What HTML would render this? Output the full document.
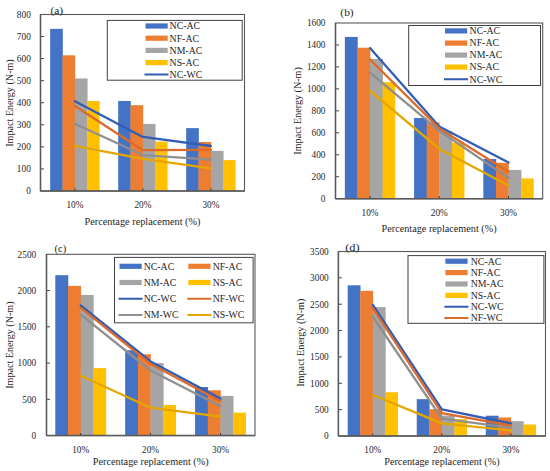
<!DOCTYPE html>
<html><head><meta charset="utf-8"><style>
html,body{margin:0;padding:0;background:#fff;width:550px;height:471px;overflow:hidden}
svg{display:block}
text{font-family:"Liberation Serif",serif;fill:#262626}
</style></head><body>
<svg width="550" height="471" viewBox="0 0 550 471">
<rect width="550" height="471" fill="#fff"/>
<rect x="50.17" y="28.84" width="12.66" height="162.16" fill="#4472C4"/>
<rect x="118.17" y="100.98" width="12.66" height="90.02" fill="#4472C4"/>
<rect x="186.17" y="128.12" width="12.66" height="62.88" fill="#4472C4"/>
<rect x="62.54" y="55.32" width="12.66" height="135.68" fill="#ED7D31"/>
<rect x="130.54" y="105.18" width="12.66" height="85.82" fill="#ED7D31"/>
<rect x="198.54" y="142.02" width="12.66" height="48.98" fill="#ED7D31"/>
<rect x="74.9" y="78.48" width="12.66" height="112.52" fill="#A5A5A5"/>
<rect x="142.9" y="123.93" width="12.66" height="67.07" fill="#A5A5A5"/>
<rect x="210.9" y="150.85" width="12.66" height="40.15" fill="#A5A5A5"/>
<rect x="87.26" y="100.98" width="12.36" height="90.02" fill="#FFC000"/>
<rect x="155.26" y="141.58" width="12.36" height="49.42" fill="#FFC000"/>
<rect x="223.26" y="160.11" width="12.36" height="30.89" fill="#FFC000"/>
<rect x="40.5" y="14.5" width="204" height="176.5" fill="none" stroke="#595959" stroke-width="1.1"/>
<text x="30.8" y="194.3" text-anchor="end" font-size="9.7" textLength="4.65" lengthAdjust="spacingAndGlyphs">0</text>
<line x1="40.5" y1="168.94" x2="44" y2="168.94" stroke="#404040" stroke-width="1"/>
<text x="30.8" y="172.24" text-anchor="end" font-size="9.7" textLength="13.95" lengthAdjust="spacingAndGlyphs">100</text>
<line x1="40.5" y1="146.88" x2="44" y2="146.88" stroke="#404040" stroke-width="1"/>
<text x="30.8" y="150.18" text-anchor="end" font-size="9.7" textLength="13.95" lengthAdjust="spacingAndGlyphs">200</text>
<line x1="40.5" y1="124.81" x2="44" y2="124.81" stroke="#404040" stroke-width="1"/>
<text x="30.8" y="128.11" text-anchor="end" font-size="9.7" textLength="13.95" lengthAdjust="spacingAndGlyphs">300</text>
<line x1="40.5" y1="102.75" x2="44" y2="102.75" stroke="#404040" stroke-width="1"/>
<text x="30.8" y="106.05" text-anchor="end" font-size="9.7" textLength="13.95" lengthAdjust="spacingAndGlyphs">400</text>
<line x1="40.5" y1="80.69" x2="44" y2="80.69" stroke="#404040" stroke-width="1"/>
<text x="30.8" y="83.99" text-anchor="end" font-size="9.7" textLength="13.95" lengthAdjust="spacingAndGlyphs">500</text>
<line x1="40.5" y1="58.62" x2="44" y2="58.62" stroke="#404040" stroke-width="1"/>
<text x="30.8" y="61.92" text-anchor="end" font-size="9.7" textLength="13.95" lengthAdjust="spacingAndGlyphs">600</text>
<line x1="40.5" y1="36.56" x2="44" y2="36.56" stroke="#404040" stroke-width="1"/>
<text x="30.8" y="39.86" text-anchor="end" font-size="9.7" textLength="13.95" lengthAdjust="spacingAndGlyphs">700</text>
<text x="30.8" y="17.8" text-anchor="end" font-size="9.7" textLength="13.95" lengthAdjust="spacingAndGlyphs">800</text>
<path d="M74.9,101.21 L142.9,136.95 L210.9,145.99" fill="none" stroke="#335DB5" stroke-width="2.3" stroke-linejoin="round" stroke-linecap="round"/>
<path d="M74.9,106.06 L142.9,150.18 L210.9,149.96" fill="none" stroke="#DC6A2A" stroke-width="2.3" stroke-linejoin="round" stroke-linecap="round"/>
<path d="M74.9,123.71 L142.9,155.04 L210.9,159.67" fill="none" stroke="#8F8F8F" stroke-width="2.3" stroke-linejoin="round" stroke-linecap="round"/>
<path d="M74.9,145.77 L142.9,158.79 L210.9,168.28" fill="none" stroke="#E3A700" stroke-width="2.3" stroke-linejoin="round" stroke-linecap="round"/>
<line x1="74.9" y1="188.5" x2="74.9" y2="191" stroke="#303030" stroke-width="1"/>
<line x1="142.9" y1="188.5" x2="142.9" y2="191" stroke="#303030" stroke-width="1"/>
<line x1="210.9" y1="188.5" x2="210.9" y2="191" stroke="#303030" stroke-width="1"/>
<line x1="40.5" y1="14.5" x2="40.5" y2="191" stroke="#595959" stroke-width="1.5"/>
<line x1="40.5" y1="191" x2="244.5" y2="191" stroke="#595959" stroke-width="1.5"/>
<rect x="107.3" y="20.4" width="134.9" height="59.8" fill="#fff" stroke="#404040" stroke-width="1"/>
<clipPath id="clipa"><rect x="107.3" y="20.4" width="134.9" height="59.8"/></clipPath><g clip-path="url(#clipa)">
<rect x="145.5" y="23.4" width="22.2" height="5.2" fill="#4472C4"/>
<text x="169.6" y="29.3" font-size="9.8">NC-AC</text>
<rect x="145.5" y="35.6" width="22.2" height="5.2" fill="#ED7D31"/>
<text x="169.6" y="41.5" font-size="9.8">NF-AC</text>
<rect x="145.5" y="47.8" width="22.2" height="5.2" fill="#A5A5A5"/>
<text x="169.6" y="53.7" font-size="9.8">NM-AC</text>
<rect x="145.5" y="60" width="22.2" height="5.2" fill="#FFC000"/>
<text x="169.6" y="65.9" font-size="9.8">NS-AC</text>
<line x1="144.5" y1="74.5" x2="168.5" y2="74.5" stroke="#335DB5" stroke-width="2"/>
<text x="169.6" y="77.8" font-size="9.8">NC-WC</text>
</g>
<text x="74.9" y="208.2" text-anchor="middle" font-size="9.3" textLength="17" lengthAdjust="spacingAndGlyphs">10%</text>
<text x="142.9" y="208.2" text-anchor="middle" font-size="9.3" textLength="17" lengthAdjust="spacingAndGlyphs">20%</text>
<text x="210.9" y="208.2" text-anchor="middle" font-size="9.3" textLength="17" lengthAdjust="spacingAndGlyphs">30%</text>
<text x="142.5" y="224.5" text-anchor="middle" font-size="10" textLength="116" lengthAdjust="spacingAndGlyphs">Percentage replacement (%)</text>
<text transform="translate(13.4,103) rotate(-90)" text-anchor="middle" font-size="9.8" textLength="87.5" lengthAdjust="spacingAndGlyphs">Impact Energy (N-m)</text>
<text x="56.8" y="13.9" text-anchor="middle" font-size="11" textLength="12.6" lengthAdjust="spacingAndGlyphs">(a)</text>
<rect x="344.84" y="36.95" width="12.89" height="161.75" fill="#4472C4"/>
<rect x="414.09" y="117.99" width="12.89" height="80.71" fill="#4472C4"/>
<rect x="483.34" y="158.95" width="12.89" height="39.75" fill="#4472C4"/>
<rect x="357.43" y="47.71" width="12.89" height="150.99" fill="#ED7D31"/>
<rect x="426.68" y="122.38" width="12.89" height="76.32" fill="#ED7D31"/>
<rect x="495.93" y="162.79" width="12.89" height="35.91" fill="#ED7D31"/>
<rect x="370.02" y="58.91" width="12.89" height="139.79" fill="#A5A5A5"/>
<rect x="439.27" y="131.17" width="12.89" height="67.53" fill="#A5A5A5"/>
<rect x="508.52" y="169.93" width="12.89" height="28.77" fill="#A5A5A5"/>
<rect x="382.62" y="82.19" width="12.59" height="116.51" fill="#FFC000"/>
<rect x="451.87" y="142.59" width="12.59" height="56.11" fill="#FFC000"/>
<rect x="521.12" y="178.38" width="12.59" height="20.32" fill="#FFC000"/>
<rect x="335.5" y="23" width="207.2" height="175.7" fill="none" stroke="#595959" stroke-width="1.1"/>
<text x="325.5" y="202" text-anchor="end" font-size="9.7" textLength="4.65" lengthAdjust="spacingAndGlyphs">0</text>
<line x1="335.5" y1="176.74" x2="339" y2="176.74" stroke="#404040" stroke-width="1"/>
<text x="325.5" y="180.04" text-anchor="end" font-size="9.7" textLength="13.95" lengthAdjust="spacingAndGlyphs">200</text>
<line x1="335.5" y1="154.77" x2="339" y2="154.77" stroke="#404040" stroke-width="1"/>
<text x="325.5" y="158.07" text-anchor="end" font-size="9.7" textLength="13.95" lengthAdjust="spacingAndGlyphs">400</text>
<line x1="335.5" y1="132.81" x2="339" y2="132.81" stroke="#404040" stroke-width="1"/>
<text x="325.5" y="136.11" text-anchor="end" font-size="9.7" textLength="13.95" lengthAdjust="spacingAndGlyphs">600</text>
<line x1="335.5" y1="110.85" x2="339" y2="110.85" stroke="#404040" stroke-width="1"/>
<text x="325.5" y="114.15" text-anchor="end" font-size="9.7" textLength="13.95" lengthAdjust="spacingAndGlyphs">800</text>
<line x1="335.5" y1="88.89" x2="339" y2="88.89" stroke="#404040" stroke-width="1"/>
<text x="325.5" y="92.19" text-anchor="end" font-size="9.7" textLength="18.6" lengthAdjust="spacingAndGlyphs">1000</text>
<line x1="335.5" y1="66.92" x2="339" y2="66.92" stroke="#404040" stroke-width="1"/>
<text x="325.5" y="70.22" text-anchor="end" font-size="9.7" textLength="18.6" lengthAdjust="spacingAndGlyphs">1200</text>
<line x1="335.5" y1="44.96" x2="339" y2="44.96" stroke="#404040" stroke-width="1"/>
<text x="325.5" y="48.26" text-anchor="end" font-size="9.7" textLength="18.6" lengthAdjust="spacingAndGlyphs">1400</text>
<text x="325.5" y="26.3" text-anchor="end" font-size="9.7" textLength="18.6" lengthAdjust="spacingAndGlyphs">1600</text>
<path d="M370.02,48.04 L439.27,126.55 L508.52,162.46" fill="none" stroke="#335DB5" stroke-width="2.3" stroke-linejoin="round" stroke-linecap="round"/>
<path d="M370.02,59.46 L439.27,128.42 L508.52,171.69" fill="none" stroke="#DC6A2A" stroke-width="2.3" stroke-linejoin="round" stroke-linecap="round"/>
<path d="M370.02,72.64 L439.27,130.73 L508.52,177.84" fill="none" stroke="#8F8F8F" stroke-width="2.3" stroke-linejoin="round" stroke-linecap="round"/>
<path d="M370.02,90.75 L439.27,148.95 L508.52,185.41" fill="none" stroke="#E3A700" stroke-width="2.3" stroke-linejoin="round" stroke-linecap="round"/>
<line x1="370.02" y1="196.2" x2="370.02" y2="198.7" stroke="#303030" stroke-width="1"/>
<line x1="439.27" y1="196.2" x2="439.27" y2="198.7" stroke="#303030" stroke-width="1"/>
<line x1="508.52" y1="196.2" x2="508.52" y2="198.7" stroke="#303030" stroke-width="1"/>
<line x1="335.5" y1="23" x2="335.5" y2="198.7" stroke="#595959" stroke-width="1.5"/>
<line x1="335.5" y1="198.7" x2="542.7" y2="198.7" stroke="#595959" stroke-width="1.5"/>
<rect x="408.7" y="25.5" width="131.8" height="60" fill="#fff" stroke="#404040" stroke-width="1"/>
<clipPath id="clipb"><rect x="408.7" y="25.5" width="131.8" height="60"/></clipPath><g clip-path="url(#clipb)">
<rect x="445" y="28.3" width="22.2" height="5.2" fill="#4472C4"/>
<text x="469.6" y="34.2" font-size="9.8">NC-AC</text>
<rect x="445" y="40.5" width="22.2" height="5.2" fill="#ED7D31"/>
<text x="469.6" y="46.4" font-size="9.8">NF-AC</text>
<rect x="445" y="52.5" width="22.2" height="5.2" fill="#A5A5A5"/>
<text x="469.6" y="58.4" font-size="9.8">NM-AC</text>
<rect x="445" y="64.5" width="22.2" height="5.2" fill="#FFC000"/>
<text x="469.6" y="70.4" font-size="9.8">NS-AC</text>
<line x1="444" y1="79.3" x2="468" y2="79.3" stroke="#335DB5" stroke-width="2"/>
<text x="469.6" y="82.6" font-size="9.8">NC-WC</text>
</g>
<text x="370.02" y="216" text-anchor="middle" font-size="9.3" textLength="17" lengthAdjust="spacingAndGlyphs">10%</text>
<text x="439.27" y="216" text-anchor="middle" font-size="9.3" textLength="17" lengthAdjust="spacingAndGlyphs">20%</text>
<text x="508.52" y="216" text-anchor="middle" font-size="9.3" textLength="17" lengthAdjust="spacingAndGlyphs">30%</text>
<text x="439.1" y="231.8" text-anchor="middle" font-size="10" textLength="115" lengthAdjust="spacingAndGlyphs">Percentage replacement (%)</text>
<text transform="translate(300.7,110.9) rotate(-90)" text-anchor="middle" font-size="9.8" textLength="87.5" lengthAdjust="spacingAndGlyphs">Impact Energy (N-m)</text>
<text x="347" y="16.4" text-anchor="middle" font-size="11" textLength="13.3" lengthAdjust="spacingAndGlyphs">(b)</text>
<rect x="55.28" y="275.19" width="13.01" height="160.41" fill="#4472C4"/>
<rect x="125.18" y="350.24" width="13.01" height="85.36" fill="#4472C4"/>
<rect x="195.08" y="387.01" width="13.01" height="48.59" fill="#4472C4"/>
<rect x="67.99" y="285.85" width="13.01" height="149.75" fill="#ED7D31"/>
<rect x="137.89" y="354.23" width="13.01" height="81.37" fill="#ED7D31"/>
<rect x="207.79" y="390.28" width="13.01" height="45.32" fill="#ED7D31"/>
<rect x="80.7" y="294.91" width="13.01" height="140.69" fill="#A5A5A5"/>
<rect x="150.6" y="363.08" width="13.01" height="72.52" fill="#A5A5A5"/>
<rect x="220.5" y="395.86" width="13.01" height="39.74" fill="#A5A5A5"/>
<rect x="93.41" y="368.16" width="12.71" height="67.44" fill="#FFC000"/>
<rect x="163.31" y="404.92" width="12.71" height="30.68" fill="#FFC000"/>
<rect x="233.21" y="412.61" width="12.71" height="22.99" fill="#FFC000"/>
<rect x="46.5" y="254.3" width="208.5" height="181.3" fill="none" stroke="#595959" stroke-width="1.1"/>
<text x="36.2" y="438.9" text-anchor="end" font-size="9.7" textLength="4.65" lengthAdjust="spacingAndGlyphs">0</text>
<line x1="46.5" y1="399.34" x2="50" y2="399.34" stroke="#404040" stroke-width="1"/>
<text x="36.2" y="402.64" text-anchor="end" font-size="9.7" textLength="13.95" lengthAdjust="spacingAndGlyphs">500</text>
<line x1="46.5" y1="363.08" x2="50" y2="363.08" stroke="#404040" stroke-width="1"/>
<text x="36.2" y="366.38" text-anchor="end" font-size="9.7" textLength="18.6" lengthAdjust="spacingAndGlyphs">1000</text>
<line x1="46.5" y1="326.82" x2="50" y2="326.82" stroke="#404040" stroke-width="1"/>
<text x="36.2" y="330.12" text-anchor="end" font-size="9.7" textLength="18.6" lengthAdjust="spacingAndGlyphs">1500</text>
<line x1="46.5" y1="290.56" x2="50" y2="290.56" stroke="#404040" stroke-width="1"/>
<text x="36.2" y="293.86" text-anchor="end" font-size="9.7" textLength="18.6" lengthAdjust="spacingAndGlyphs">2000</text>
<text x="36.2" y="257.6" text-anchor="end" font-size="9.7" textLength="18.6" lengthAdjust="spacingAndGlyphs">2500</text>
<path d="M80.7,305.43 L150.6,361.48 L220.5,398.61" fill="none" stroke="#335DB5" stroke-width="2.3" stroke-linejoin="round" stroke-linecap="round"/>
<path d="M80.7,307.96 L150.6,363.95 L220.5,401.15" fill="none" stroke="#DC6A2A" stroke-width="2.3" stroke-linejoin="round" stroke-linecap="round"/>
<path d="M80.7,314.71 L150.6,370.48 L220.5,406.23" fill="none" stroke="#8F8F8F" stroke-width="2.3" stroke-linejoin="round" stroke-linecap="round"/>
<path d="M80.7,375.77 L150.6,407.68 L220.5,416.53" fill="none" stroke="#E3A700" stroke-width="2.3" stroke-linejoin="round" stroke-linecap="round"/>
<line x1="80.7" y1="433.1" x2="80.7" y2="435.6" stroke="#303030" stroke-width="1"/>
<line x1="150.6" y1="433.1" x2="150.6" y2="435.6" stroke="#303030" stroke-width="1"/>
<line x1="220.5" y1="433.1" x2="220.5" y2="435.6" stroke="#303030" stroke-width="1"/>
<line x1="46.5" y1="254.3" x2="46.5" y2="435.6" stroke="#595959" stroke-width="1.5"/>
<line x1="46.5" y1="435.6" x2="255" y2="435.6" stroke="#595959" stroke-width="1.5"/>
<rect x="114.5" y="257.4" width="138.6" height="65.4" fill="#fff" stroke="#404040" stroke-width="1"/>
<clipPath id="clipc"><rect x="114.5" y="257.4" width="138.6" height="65.4"/></clipPath><g clip-path="url(#clipc)">
<rect x="119.5" y="263.7" width="22.2" height="5.2" fill="#4472C4"/>
<text x="143.7" y="269.6" font-size="9.8">NC-AC</text>
<rect x="188.3" y="263.7" width="22.2" height="5.2" fill="#ED7D31"/>
<text x="212.8" y="269.6" font-size="9.8">NF-AC</text>
<rect x="119.5" y="279.9" width="22.2" height="5.2" fill="#A5A5A5"/>
<text x="143.7" y="285.8" font-size="9.8">NM-AC</text>
<rect x="188.3" y="279.9" width="22.2" height="5.2" fill="#FFC000"/>
<text x="212.8" y="285.8" font-size="9.8">NS-AC</text>
<line x1="118.5" y1="298.8" x2="142.5" y2="298.8" stroke="#335DB5" stroke-width="2"/>
<text x="143.7" y="302.1" font-size="9.8">NC-WC</text>
<line x1="187.3" y1="298.8" x2="211.3" y2="298.8" stroke="#DC6A2A" stroke-width="2"/>
<text x="212.8" y="302.1" font-size="9.8">NF-WC</text>
<line x1="118.5" y1="315" x2="142.5" y2="315" stroke="#8F8F8F" stroke-width="2"/>
<text x="143.7" y="318.3" font-size="9.8">NM-WC</text>
<line x1="187.3" y1="315" x2="211.3" y2="315" stroke="#E3A700" stroke-width="2"/>
<text x="212.8" y="318.3" font-size="9.8">NS-WC</text>
</g>
<text x="80.7" y="452.7" text-anchor="middle" font-size="9.3" textLength="17" lengthAdjust="spacingAndGlyphs">10%</text>
<text x="150.6" y="452.7" text-anchor="middle" font-size="9.3" textLength="17" lengthAdjust="spacingAndGlyphs">20%</text>
<text x="220.5" y="452.7" text-anchor="middle" font-size="9.3" textLength="17" lengthAdjust="spacingAndGlyphs">30%</text>
<text x="150.75" y="464.9" text-anchor="middle" font-size="10" textLength="116" lengthAdjust="spacingAndGlyphs">Percentage replacement (%)</text>
<text transform="translate(12.6,345.1) rotate(-90)" text-anchor="middle" font-size="9.8" textLength="87.3" lengthAdjust="spacingAndGlyphs">Impact Energy (N-m)</text>
<text x="60.3" y="252.2" text-anchor="middle" font-size="11" textLength="11.8" lengthAdjust="spacingAndGlyphs">(c)</text>
<rect x="347.71" y="285.29" width="12.85" height="150.71" fill="#4472C4"/>
<rect x="416.75" y="399.15" width="12.85" height="36.85" fill="#4472C4"/>
<rect x="485.78" y="415.7" width="12.85" height="20.3" fill="#4472C4"/>
<rect x="360.27" y="290.82" width="12.85" height="145.18" fill="#ED7D31"/>
<rect x="429.3" y="409.17" width="12.85" height="26.83" fill="#ED7D31"/>
<rect x="498.33" y="417.5" width="12.85" height="18.5" fill="#ED7D31"/>
<rect x="372.82" y="307.11" width="12.85" height="128.89" fill="#A5A5A5"/>
<rect x="441.85" y="415.6" width="12.85" height="20.4" fill="#A5A5A5"/>
<rect x="510.88" y="421.19" width="12.85" height="14.81" fill="#A5A5A5"/>
<rect x="385.37" y="392.25" width="12.55" height="43.75" fill="#FFC000"/>
<rect x="454.4" y="419.13" width="12.55" height="16.87" fill="#FFC000"/>
<rect x="523.43" y="424.51" width="12.55" height="11.49" fill="#FFC000"/>
<rect x="338.4" y="251.5" width="207.1" height="184.5" fill="none" stroke="#595959" stroke-width="1.1"/>
<text x="328.7" y="439.3" text-anchor="end" font-size="9.7" textLength="4.65" lengthAdjust="spacingAndGlyphs">0</text>
<line x1="338.4" y1="409.64" x2="341.9" y2="409.64" stroke="#404040" stroke-width="1"/>
<text x="328.7" y="412.94" text-anchor="end" font-size="9.7" textLength="13.95" lengthAdjust="spacingAndGlyphs">500</text>
<line x1="338.4" y1="383.29" x2="341.9" y2="383.29" stroke="#404040" stroke-width="1"/>
<text x="328.7" y="386.59" text-anchor="end" font-size="9.7" textLength="18.6" lengthAdjust="spacingAndGlyphs">1000</text>
<line x1="338.4" y1="356.93" x2="341.9" y2="356.93" stroke="#404040" stroke-width="1"/>
<text x="328.7" y="360.23" text-anchor="end" font-size="9.7" textLength="18.6" lengthAdjust="spacingAndGlyphs">1500</text>
<line x1="338.4" y1="330.57" x2="341.9" y2="330.57" stroke="#404040" stroke-width="1"/>
<text x="328.7" y="333.87" text-anchor="end" font-size="9.7" textLength="18.6" lengthAdjust="spacingAndGlyphs">2000</text>
<line x1="338.4" y1="304.21" x2="341.9" y2="304.21" stroke="#404040" stroke-width="1"/>
<text x="328.7" y="307.51" text-anchor="end" font-size="9.7" textLength="18.6" lengthAdjust="spacingAndGlyphs">2500</text>
<line x1="338.4" y1="277.86" x2="341.9" y2="277.86" stroke="#404040" stroke-width="1"/>
<text x="328.7" y="281.16" text-anchor="end" font-size="9.7" textLength="18.6" lengthAdjust="spacingAndGlyphs">3000</text>
<text x="328.7" y="254.8" text-anchor="end" font-size="9.7" textLength="18.6" lengthAdjust="spacingAndGlyphs">3500</text>
<path d="M372.82,304.85 L441.85,409.38 L510.88,423.4" fill="none" stroke="#335DB5" stroke-width="2.3" stroke-linejoin="round" stroke-linecap="round"/>
<path d="M372.82,308.17 L441.85,413.23 L510.88,425.62" fill="none" stroke="#DC6A2A" stroke-width="2.3" stroke-linejoin="round" stroke-linecap="round"/>
<path d="M372.82,316.76 L441.85,418.71 L510.88,427.72" fill="none" stroke="#8F8F8F" stroke-width="2.3" stroke-linejoin="round" stroke-linecap="round"/>
<path d="M372.82,394.99 L441.85,423.4 L510.88,430.41" fill="none" stroke="#E3A700" stroke-width="2.3" stroke-linejoin="round" stroke-linecap="round"/>
<line x1="372.82" y1="433.5" x2="372.82" y2="436" stroke="#303030" stroke-width="1"/>
<line x1="441.85" y1="433.5" x2="441.85" y2="436" stroke="#303030" stroke-width="1"/>
<line x1="510.88" y1="433.5" x2="510.88" y2="436" stroke="#303030" stroke-width="1"/>
<line x1="338.4" y1="251.5" x2="338.4" y2="436" stroke="#595959" stroke-width="1.5"/>
<line x1="338.4" y1="436" x2="545.5" y2="436" stroke="#595959" stroke-width="1.5"/>
<rect x="408" y="255.6" width="135.9" height="67.7" fill="#fff" stroke="#404040" stroke-width="1"/>
<clipPath id="clipd"><rect x="408" y="255.6" width="135.9" height="67.7"/></clipPath><g clip-path="url(#clipd)">
<rect x="445.4" y="258.6" width="22.2" height="5.2" fill="#4472C4"/>
<text x="470.8" y="264.5" font-size="9.8">NC-AC</text>
<rect x="445.4" y="270" width="22.2" height="5.2" fill="#ED7D31"/>
<text x="470.8" y="275.9" font-size="9.8">NF-AC</text>
<rect x="445.4" y="281.4" width="22.2" height="5.2" fill="#A5A5A5"/>
<text x="470.8" y="287.3" font-size="9.8">NM-AC</text>
<rect x="445.4" y="292.8" width="22.2" height="5.2" fill="#FFC000"/>
<text x="470.8" y="298.7" font-size="9.8">NS-AC</text>
<line x1="444.4" y1="306.7" x2="468.4" y2="306.7" stroke="#335DB5" stroke-width="2"/>
<text x="470.8" y="310" font-size="9.8">NC-WC</text>
<line x1="444.4" y1="318" x2="468.4" y2="318" stroke="#DC6A2A" stroke-width="2"/>
<text x="470.8" y="321.3" font-size="9.8">NF-WC</text>
</g>
<text x="372.82" y="453.1" text-anchor="middle" font-size="9.3" textLength="17" lengthAdjust="spacingAndGlyphs">10%</text>
<text x="441.85" y="453.1" text-anchor="middle" font-size="9.3" textLength="17" lengthAdjust="spacingAndGlyphs">20%</text>
<text x="510.88" y="453.1" text-anchor="middle" font-size="9.3" textLength="17" lengthAdjust="spacingAndGlyphs">30%</text>
<text x="441.95" y="464.5" text-anchor="middle" font-size="10" textLength="115.5" lengthAdjust="spacingAndGlyphs">Percentage replacement (%)</text>
<text transform="translate(303.9,342.7) rotate(-90)" text-anchor="middle" font-size="9.8" textLength="88.3" lengthAdjust="spacingAndGlyphs">Impact Energy (N-m)</text>
<text x="352.4" y="250.6" text-anchor="middle" font-size="11" textLength="14.4" lengthAdjust="spacingAndGlyphs">(d)</text>
</svg></body></html>
